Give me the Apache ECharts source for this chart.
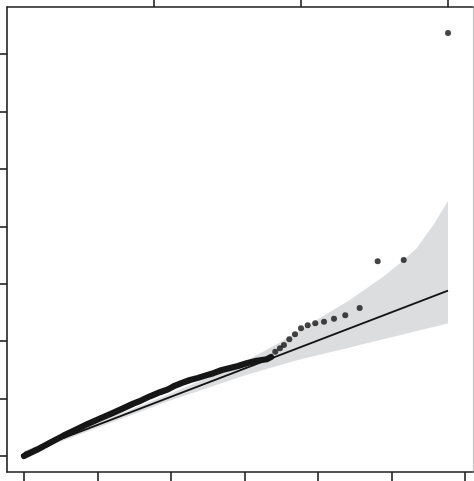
<!DOCTYPE html>
<html>
<head>
<meta charset="utf-8">
<script src="https://cdn.jsdelivr.net/npm/echarts@6/dist/echarts.min.js"></script>
<style>
html,body{margin:0;padding:0;background:#fff;}
#chart{width:474px;height:481px;}
</style>
</head>
<body>
<div id="chart"></div>
<script>
// Axis extents and tick positions (data units)
const X_MIN = -0.231, X_MAX = 6.109;
const Y_MIN = -0.279, Y_MAX = 7.818;
const xTicks = [0, 1, 2, 3, 4, 5, 6];
const topTicks = [1.769, 3.769, 5.769];
const yTicks = [0, 1, 2, 3, 4, 5, 6, 7];

const denseX = [0, 0.177, 0.354, 0.531, 0.717, 0.871, 1.034, 1.197, 1.333, 1.487, 1.592, 1.714, 1.850, 1.959, 2.031, 2.150, 2.259, 2.367, 2.476, 2.576, 2.694, 2.803, 2.912, 3.030, 3.166, 3.302, 3.361];
const denseY = [0, 0.110, 0.230, 0.350, 0.465, 0.560, 0.652, 0.742, 0.820, 0.912, 0.965, 1.040, 1.110, 1.160, 1.210, 1.272, 1.323, 1.360, 1.404, 1.442, 1.497, 1.532, 1.567, 1.614, 1.659, 1.684, 1.724];

// Sparse upper tail points
const tailX = [3.419, 3.483, 3.537, 3.610, 3.687, 3.769, 3.860, 3.963, 4.082, 4.218, 4.371, 4.567, 4.812, 5.166, 5.769];
const tailY = [1.816, 1.875, 1.933, 2.032, 2.119, 2.224, 2.276, 2.311, 2.339, 2.391, 2.450, 2.577, 3.390, 3.413, 7.365];

// Reference line
const refX = [0, 5.769];
const refY = [0.05, 2.88];

// Confidence band
const bandX = [0, 1, 2, 3, 3.5, 3.755, 3.982, 4.208, 4.435, 4.662, 4.888, 5.116, 5.343, 5.569, 5.769];
const bandUpper = [0.09, 0.58, 1.09, 1.64, 1.99, 2.194, 2.368, 2.542, 2.716, 2.920, 3.122, 3.355, 3.617, 4.022, 4.440];
const bandLower = [0.01, 0.49, 0.97, 1.40, 1.59, 1.678, 1.750, 1.820, 1.891, 1.962, 2.032, 2.103, 2.175, 2.244, 2.307];

const zip = (a, b) => a.map((v, i) => [v, b[i]]);

const chart = echarts.init(document.getElementById('chart'), null, {renderer: 'canvas'});
const frame = '#1e1e1e';

chart.setOption({
  animation: false,
  backgroundColor: '#ffffff',
  grid: {left: 7, top: 7, right: 1, bottom: 9, containLabel: false},
  xAxis: [
    {
      type: 'value', position: 'bottom', min: X_MIN, max: X_MAX,
      axisLine: {show: true, onZero: false, lineStyle: {color: frame, width: 1.6}},
      axisTick: {show: true, inside: false, length: 9, customValues: xTicks, lineStyle: {color: frame, width: 1.6}},
      axisLabel: {show: false, customValues: xTicks},
      splitLine: {show: false}
    },
    {
      type: 'value', position: 'top', min: X_MIN, max: X_MAX,
      axisLine: {show: true, onZero: false, lineStyle: {color: frame, width: 1.6}},
      axisTick: {show: true, inside: false, length: 7, customValues: topTicks, lineStyle: {color: frame, width: 1.6}},
      axisLabel: {show: false, customValues: topTicks},
      splitLine: {show: false}
    }
  ],
  yAxis: [
    {
      type: 'value', position: 'left', min: Y_MIN, max: Y_MAX,
      axisLine: {show: true, onZero: false, lineStyle: {color: frame, width: 1.6}},
      axisTick: {show: true, inside: false, length: 7, customValues: yTicks, lineStyle: {color: frame, width: 1.6}},
      axisLabel: {show: false, customValues: yTicks},
      splitLine: {show: false}
    },
    {
      type: 'value', position: 'right', min: Y_MIN, max: Y_MAX,
      axisLine: {show: true, onZero: false, lineStyle: {color: '#c6c6c6', width: 1.2}},
      axisTick: {show: false},
      axisLabel: {show: false},
      splitLine: {show: false}
    }
  ],
  series: [
    {
      type: 'custom',
      silent: true,
      z: 1,
      data: [[bandX[0], bandLower[0]]],
      renderItem: function (params, api) {
        const pts = [];
        for (let i = 0; i < bandX.length; i++) pts.push(api.coord([bandX[i], bandUpper[i]]));
        for (let i = bandX.length - 1; i >= 0; i--) pts.push(api.coord([bandX[i], bandLower[i]]));
        return {type: 'polygon', shape: {points: pts}, style: {fill: '#dcdddf', stroke: null}};
      }
    },
    {
      type: 'line',
      z: 3,
      data: zip(refX, refY),
      symbol: 'none',
      lineStyle: {color: '#141414', width: 1.7},
      silent: true
    },
    {
      type: 'line',
      z: 4,
      data: zip(denseX, denseY),
      symbol: 'none',
      lineStyle: {color: '#161616', width: 6.2, cap: 'round', join: 'round'},
      silent: true
    },
    {
      type: 'scatter',
      z: 5,
      data: zip(tailX, tailY),
      symbol: 'circle',
      symbolSize: 6,
      itemStyle: {color: '#151515'},
      silent: true
    }
  ]
});
</script>
</body>
</html>
